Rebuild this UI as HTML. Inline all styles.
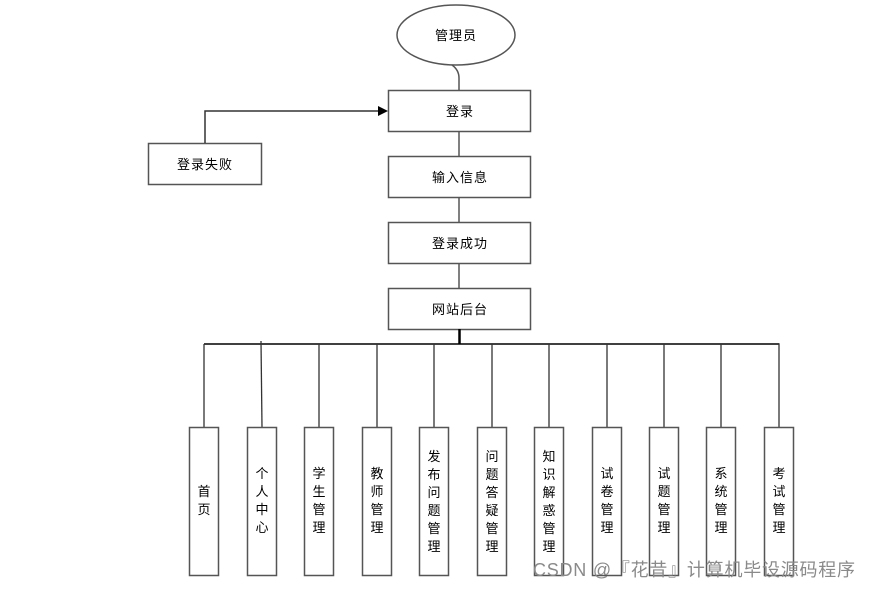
<!DOCTYPE html>
<html><head><meta charset="utf-8"><style>
html,body{margin:0;padding:0;background:#fff;}
svg text{font-family:"Liberation Sans","Noto Sans CJK SC",sans-serif;font-size:13px;fill:#000;}
.lb{letter-spacing:1px;}
</style></head><body>
<svg width="871" height="588" viewBox="0 0 871 588" xmlns="http://www.w3.org/2000/svg">
<g stroke="#555" stroke-width="1.5" fill="#fff">
<ellipse cx="456" cy="35" rx="59" ry="30"/>
<path d="M452 65 Q459 70 459 78 L459 90" fill="none"/>
<rect x="388.5" y="90.5" width="142" height="41"/>
<rect x="388.5" y="156.5" width="142" height="41"/>
<rect x="388.5" y="222.5" width="142" height="41"/>
<rect x="388.5" y="288.5" width="142" height="41"/>
<rect x="148.5" y="143.5" width="113" height="41"/>
<line x1="459" y1="131" x2="459" y2="156"/>
<line x1="459" y1="197" x2="459" y2="222"/>
<line x1="459" y1="263" x2="459" y2="288"/>
</g>
<path d="M205 143 L205 111 L378 111" stroke="#333" stroke-width="1.5" fill="none"/>
<polygon points="378,106 388,111 378,116" fill="#000"/>
<line x1="459.5" y1="329" x2="459.5" y2="344" stroke="#000" stroke-width="2.5"/>
<line x1="204" y1="344" x2="779.5" y2="344" stroke="#000" stroke-width="1.5"/>
<g stroke="#333" stroke-width="1.3">
<line x1="204" y1="344" x2="204" y2="427"/>
<line x1="261" y1="341" x2="262" y2="427"/>
<line x1="319" y1="344" x2="319" y2="427"/>
<line x1="377" y1="344" x2="377" y2="427"/>
<line x1="434" y1="344" x2="434" y2="427"/>
<line x1="492" y1="344" x2="492" y2="427"/>
<line x1="549" y1="344" x2="549" y2="427"/>
<line x1="607" y1="344" x2="607" y2="427"/>
<line x1="664" y1="344" x2="664" y2="427"/>
<line x1="721" y1="344" x2="721" y2="427"/>
<line x1="779" y1="344" x2="779" y2="427"/>
</g>
<g stroke="#555" stroke-width="1.5" fill="#fff">
<rect x="189.5" y="427.5" width="29" height="148"/>
<rect x="247.5" y="427.5" width="29" height="148"/>
<rect x="304.5" y="427.5" width="29" height="148"/>
<rect x="362.5" y="427.5" width="29" height="148"/>
<rect x="419.5" y="427.5" width="29" height="148"/>
<rect x="477.5" y="427.5" width="29" height="148"/>
<rect x="534.5" y="427.5" width="29" height="148"/>
<rect x="592.5" y="427.5" width="29" height="148"/>
<rect x="649.5" y="427.5" width="29" height="148"/>
<rect x="706.5" y="427.5" width="29" height="148"/>
<rect x="764.5" y="427.5" width="29" height="148"/>
</g>
<g text-anchor="middle" class="lb">
<text x="456" y="40">管理员</text>
<text x="460" y="116">登录</text>
<text x="460" y="182">输入信息</text>
<text x="460" y="248">登录成功</text>
<text x="460" y="314">网站后台</text>
<text x="205" y="169">登录失败</text>
</g>
<g text-anchor="middle" font-size="13">
<text x="204"><tspan x="204" y="496">首</tspan><tspan x="204" dy="18">页</tspan></text>
<text><tspan x="262" y="478">个</tspan><tspan x="262" dy="18">人</tspan><tspan x="262" dy="18">中</tspan><tspan x="262" dy="18">心</tspan></text>
<text><tspan x="319" y="478">学</tspan><tspan x="319" dy="18">生</tspan><tspan x="319" dy="18">管</tspan><tspan x="319" dy="18">理</tspan></text>
<text><tspan x="377" y="478">教</tspan><tspan x="377" dy="18">师</tspan><tspan x="377" dy="18">管</tspan><tspan x="377" dy="18">理</tspan></text>
<text><tspan x="434" y="461">发</tspan><tspan x="434" dy="18">布</tspan><tspan x="434" dy="18">问</tspan><tspan x="434" dy="18">题</tspan><tspan x="434" dy="18">管</tspan><tspan x="434" dy="18">理</tspan></text>
<text><tspan x="492" y="461">问</tspan><tspan x="492" dy="18">题</tspan><tspan x="492" dy="18">答</tspan><tspan x="492" dy="18">疑</tspan><tspan x="492" dy="18">管</tspan><tspan x="492" dy="18">理</tspan></text>
<text><tspan x="549" y="461">知</tspan><tspan x="549" dy="18">识</tspan><tspan x="549" dy="18">解</tspan><tspan x="549" dy="18">惑</tspan><tspan x="549" dy="18">管</tspan><tspan x="549" dy="18">理</tspan></text>
<text><tspan x="607" y="478">试</tspan><tspan x="607" dy="18">卷</tspan><tspan x="607" dy="18">管</tspan><tspan x="607" dy="18">理</tspan></text>
<text><tspan x="664" y="478">试</tspan><tspan x="664" dy="18">题</tspan><tspan x="664" dy="18">管</tspan><tspan x="664" dy="18">理</tspan></text>
<text><tspan x="721" y="478">系</tspan><tspan x="721" dy="18">统</tspan><tspan x="721" dy="18">管</tspan><tspan x="721" dy="18">理</tspan></text>
<text><tspan x="779" y="478">考</tspan><tspan x="779" dy="18">试</tspan><tspan x="779" dy="18">管</tspan><tspan x="779" dy="18">理</tspan></text>
</g>
<text x="533" y="576" textLength="322" lengthAdjust="spacing" style="font-size:18px;fill:#8a8a8a">CSDN @『花昔』计算机毕设源码程序</text>
</svg>
</body></html>
